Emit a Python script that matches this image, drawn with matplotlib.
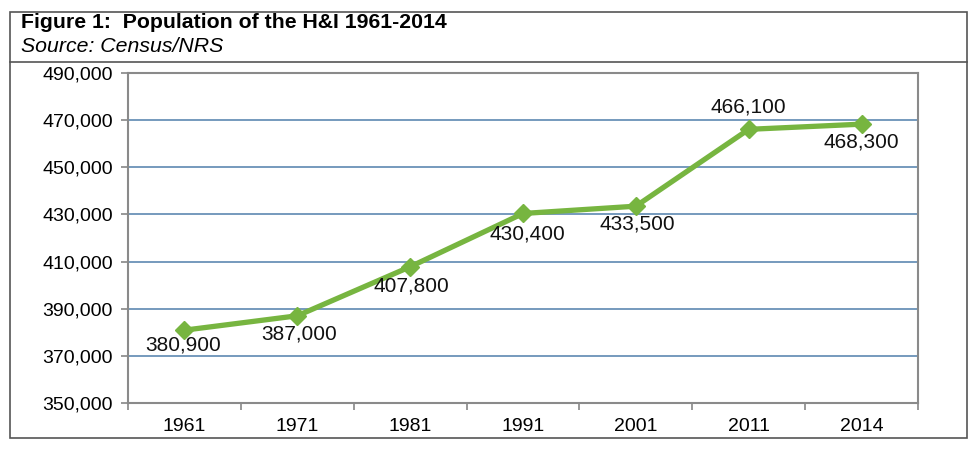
import matplotlib.pyplot as plt
from matplotlib.patches import Rectangle
from matplotlib.lines import Line2D
from matplotlib.ticker import FuncFormatter, FixedLocator

plt.rcParams['font.family'] = ['Liberation Sans', 'DejaVu Sans']

years = ["1961", "1971", "1981", "1991", "2001", "2011", "2014"]
population = [380900, 387000, 407800, 430400, 433500, 466100, 468300]
# label offsets (points) - only one sits above its marker
label_offsets = [(-1, -4), (1, -6), (1, -7), (3, -8), (1, -6), (0, 9), (0, -6)]

fig = plt.figure(figsize=(9.76, 4.5), dpi=100)
ax = fig.add_axes([128 / 976, 1 - 403 / 450, (918 - 128) / 976, (403 - 73) / 450])

x = list(range(len(years)))
ax.plot(x, population, color='#77b540', linewidth=3.8, marker='D',
        markersize=9, markeredgecolor='#77b540', zorder=3)

for xi, v, off in zip(x, population, label_offsets):
    ax.annotate(f"{v:,}", (xi, v), xytext=off, textcoords='offset points',
                ha='center', va='top' if off[1] < 0 else 'bottom',
                fontsize=15, color='#111111')

ax.set_xlim(-0.5, len(years) - 0.5)
ax.set_ylim(350000, 490000)
ax.set_yticks(range(350000, 490001, 20000))
ax.yaxis.set_major_formatter(FuncFormatter(lambda v, p: f"{int(v):,}"))
ax.set_xticks(x)
ax.set_xticklabels(years)
ax.xaxis.set_minor_locator(FixedLocator([i - 0.5 for i in range(len(years) + 1)]))

ax.tick_params(axis='x', which='major', length=0, labelsize=14, pad=11)
ax.tick_params(axis='x', which='minor', length=5, color='#868686', width=1.2)
ax.tick_params(axis='y', length=5, color='#868686', width=1.2, labelsize=14, pad=6)

ax.grid(axis='y', color='#4f7fab', linewidth=1.1)
ax.set_axisbelow(True)
for s in ax.spines.values():
    s.set_color('#8a8a8a')
    s.set_linewidth(1.5)

# outer frame and header
fig.add_artist(Rectangle((10 / 976, 1 - 438 / 450), 957 / 976, 426 / 450,
                         transform=fig.transFigure, fill=False,
                         edgecolor='#555555', linewidth=1.2))
fig.add_artist(Line2D([10 / 976, 967 / 976], [1 - 62 / 450, 1 - 62 / 450],
                      transform=fig.transFigure, color='#555555', linewidth=1.2))
fig.text(21 / 976, 1 - 23 / 450, "Figure 1:  Population of the H&I 1961-2014",
         fontsize=15.3, fontweight='bold', va='center', ha='left')
fig.text(21 / 976, 1 - 47 / 450, "Source: Census/NRS",
         fontsize=15.3, style='italic', va='center', ha='left')

fig.savefig("out.png", dpi=100)
